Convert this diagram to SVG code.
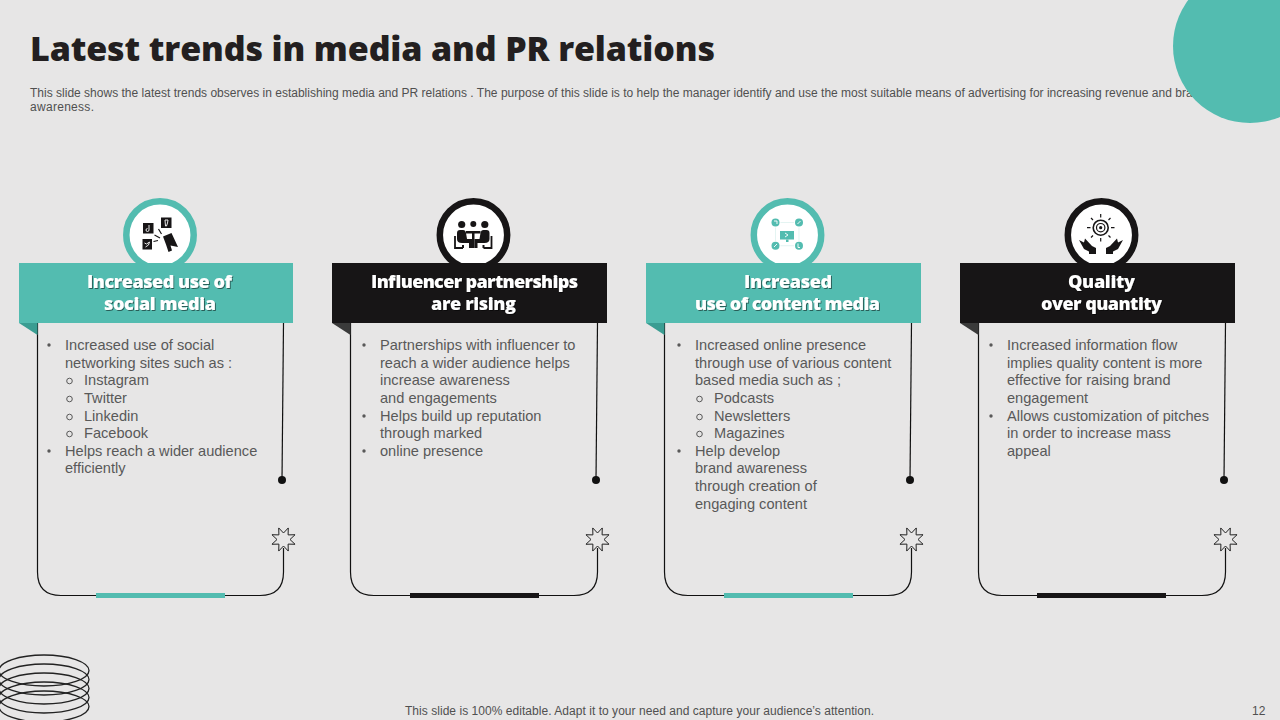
<svg xmlns="http://www.w3.org/2000/svg" width="1280" height="720" viewBox="0 0 1280 720">
<defs>
<style>
.b{font-family:"Liberation Sans",Arial,sans-serif;font-size:14.6px;fill:#595959}
.d{font-family:"Liberation Sans",Arial,sans-serif;font-size:12px;fill:#505050}
.f{font-family:"Liberation Sans",Arial,sans-serif;font-size:12px;fill:#505050}
.t{font-family:"Open Sans",Lato,sans-serif;font-weight:800;font-size:34px;fill:#231f20}
.h{font-family:"Open Sans",Lato,sans-serif;font-weight:800;font-size:18px;fill:#fff;text-anchor:middle;filter:url(#sh)}
.line{fill:none;stroke:#111;stroke-width:1.2}
.ring{fill:#fff;stroke-width:6.500}
.tl{fill:#53bcb0}.bk{fill:#171516}
.star{fill:none;stroke:#222;stroke-width:1}
.coil{fill:none;stroke:#222;stroke-width:1.3}
.wm{fill:none;stroke:#fff;stroke-width:0.9}
</style>
<filter id="sh" x="-10%" y="-20%" width="120%" height="150%"><feDropShadow dx="1" dy="1" stdDeviation="0.6" flood-color="#000" flood-opacity="0.5"/></filter>
<path id="burst" d="M6.500 0 11.550 4.780 4.600 4.600 4.780 11.550 0 6.500-4.780 11.550-4.600 4.600-11.550 4.780-6.500 0-11.550-4.780-4.600-4.600-4.780-11.550 0-6.500 4.780-11.550 4.600-4.600 11.550-4.780Z"/>
<g id="person"><circle cx="461.700" cy="224.500" r="3.600"/><path d="M457 233q0-3 3-3h3q2.500 0 3 3l1 6h5v9h-3v-5h-7q-5 0-5-4Z"/><path d="M455 236v12h8" fill="none" stroke="#171516" stroke-width="1.800"/><path d="M463 245v3" fill="none" stroke="#171516" stroke-width="2"/></g>
</defs>
<rect width="1280" height="720" fill="#e7e6e6"/>
<text class="t" x="30" y="61" textLength="685">Latest trends in media and PR relations</text>
<text class="d" x="30" y="97" textLength="1176">This slide shows the latest trends observes in establishing media and PR relations . The purpose of this slide is to help the manager identify and use the most suitable means of advertising for increasing revenue and brand</text>
<text class="d" x="30" y="111" textLength="64">awareness.</text>
<circle class="tl" cx="1250" cy="46" r="77"/>

<g id="coil">
<ellipse class="coil" cx="44" cy="670.500" rx="45" ry="15.500"/>
<ellipse class="coil" cx="44" cy="679.500" rx="45" ry="15.500"/>
<ellipse class="coil" cx="44" cy="688.500" rx="45" ry="15.500"/>
<ellipse class="coil" cx="44" cy="697.500" rx="45" ry="15.500"/>
<ellipse class="coil" cx="44" cy="706.500" rx="45" ry="15.500"/>
</g>

<g id="card-1">
<path class="line" d="M37.500 323V572Q37.500 595.500 61 595.500H260Q283.500 595.500 283.500 572V548"/>
<path class="line" d="M283.500 323 282 480"/><circle cx="282" cy="480" r="4" fill="#111"/>
<use href="#burst" class="star" x="283.500" y="539.500"/>
<rect class="tl" x="96" y="593" width="129" height="5"/>
<path d="M19 323H37.500V335Z" fill="#3a9d92"/>
<rect class="tl" x="19" y="263" width="274" height="60"/>
<circle class="ring" cx="160" cy="235" r="33.700" stroke="#53bcb0"/>
<rect class="tl" x="19" y="263" width="274" height="8"/>
<g id="icon-1" fill="#171516">
<rect x="143" y="223" width="10.500" height="10.500"/><rect x="161" y="217.500" width="10.500" height="10.500"/><rect x="142.500" y="239" width="9.500" height="10.500"/>
<path class="wm" d="M149 225v5a1.500 1.500 0 1 1-1.500-1.500M165 220h3l-.5 3 -1 3h-1ZM144.500 243l2 1 3-2-1 3-3 2"/>
<path d="M163 236.500 171.500 233 178 247 170.500 245.500 172 250.500 168.500 252 166 244.500Z"/>
<path d="M154.500 235 160 238M158.500 229 161.500 234M153.500 241.500 158 240.500" stroke="#171516" fill="none" stroke-width="1.200"/>
</g>
<text class="h" x="159.500" y="288" textLength="145">Increased use of</text><text class="h" x="160" y="310" textLength="112">social media</text>
<g class="b"><circle cx="49" cy="345" r="1.700" fill="#595959"/><circle cx="49" cy="451" r="1.700" fill="#595959"/>
<text x="65" y="350">Increased use of social</text><text x="65" y="368">networking sites such as :</text>
<text x="65" y="456">Helps reach a wider audience</text><text x="65" y="473">efficiently</text>
<g fill="none" stroke="#595959"><circle cx="69.500" cy="381" r="2.800"/><circle cx="69.500" cy="399" r="2.800"/><circle cx="69.500" cy="417" r="2.800"/><circle cx="69.500" cy="434" r="2.800"/></g>
<text x="84" y="385">Instagram</text><text x="84" y="403">Twitter</text><text x="84" y="421">Linkedin</text><text x="84" y="438">Facebook</text></g>
</g>

<g id="card-2">
<path class="line" d="M350.500 323V572Q350.500 595.500 374 595.500H574Q597.500 595.500 597.500 572V548"/>
<path class="line" d="M597.500 323 596 480"/><circle cx="596" cy="480" r="4" fill="#111"/>
<use href="#burst" class="star" x="597.500" y="539.500"/>
<rect class="bk" x="410" y="593" width="129" height="5"/>
<path d="M332 323H350.500V335Z" fill="#3a3a3a"/>
<rect class="bk" x="332" y="263" width="275" height="60"/>
<circle class="ring" cx="473.500" cy="235" r="33.700" stroke="#171516"/>
<rect class="bk" x="332" y="263" width="275" height="8"/>
<g id="icon-2" fill="#171516">
<use href="#person"/><use href="#person" transform="matrix(-1 0 0 1 946.500 0)"/>
<circle cx="473.300" cy="224" r="3"/>
<rect x="466" y="231" width="14.500" height="2.500"/><rect x="472" y="233" width="2.500" height="15"/>
</g>
<text class="h" x="474.500" y="288" textLength="207">Influencer partnerships</text><text class="h" x="473.500" y="310" textLength="85">are rising</text>
<g class="b"><circle cx="364" cy="345" r="1.700" fill="#595959"/><circle cx="364" cy="416" r="1.700" fill="#595959"/><circle cx="364" cy="451" r="1.700" fill="#595959"/>
<text x="380" y="350">Partnerships with influencer to</text><text x="380" y="368">reach a wider audience helps</text><text x="380" y="385">increase awareness</text><text x="380" y="403">and engagements</text><text x="380" y="421">Helps build up reputation</text><text x="380" y="438">through marked</text><text x="380" y="456">online presence</text></g>
</g>

<g id="card-3">
<path class="line" d="M664.500 323V572Q664.500 595.500 688 595.500H888Q911.500 595.500 911.500 572V548"/>
<path class="line" d="M911.500 323 910 480"/><circle cx="910" cy="480" r="4" fill="#111"/>
<use href="#burst" class="star" x="911.500" y="539.500"/>
<rect class="tl" x="724" y="593" width="129" height="5"/>
<path d="M646 323H664.500V335Z" fill="#3a9d92"/>
<rect class="tl" x="646" y="263" width="275" height="60"/>
<circle class="ring" cx="787.500" cy="235" r="33.700" stroke="#53bcb0"/>
<rect class="tl" x="646" y="263" width="275" height="8"/>
<g id="icon-3" fill="#53bcb0">
<rect x="780" y="231" width="14" height="8.500"/><rect x="786" y="239.500" width="2.500" height="2.500"/>
<circle cx="775.500" cy="222.500" r="4"/><circle cx="799" cy="222.500" r="4"/><circle cx="775.500" cy="245.700" r="4"/><circle cx="799" cy="245.700" r="4"/>
<path class="wm" d="M785 233l3 2-3 2M774 221h3v3M797.500 224l3-3M774 247l3-3M798 243.500v4h2"/>
<path d="M780.500 222.500H794M780.500 245.700H794M775.500 227.500V241M799 227.500V241" stroke="#d8efec" stroke-width="0.700" fill="none"/>
</g>
<text class="h" x="788" y="288" textLength="88">Increased</text><text class="h" x="787.500" y="310" textLength="185">use of content media</text>
<g class="b"><circle cx="679" cy="345" r="1.700" fill="#595959"/><circle cx="679" cy="451" r="1.700" fill="#595959"/>
<text x="695" y="350">Increased online presence</text><text x="695" y="368">through use of various content</text><text x="695" y="385">based media such as ;</text>
<g fill="none" stroke="#595959"><circle cx="699.500" cy="399" r="2.800"/><circle cx="699.500" cy="417" r="2.800"/><circle cx="699.500" cy="434" r="2.800"/></g>
<text x="714" y="403">Podcasts</text><text x="714" y="421">Newsletters</text><text x="714" y="438">Magazines</text>
<text x="695" y="456">Help develop</text><text x="695" y="473">brand awareness</text><text x="695" y="491">through creation of</text><text x="695" y="509">engaging content</text></g>
</g>

<g id="card-4">
<path class="line" d="M978.500 323V572Q978.500 595.500 1002 595.500H1202Q1225.500 595.500 1225.500 572V548"/>
<path class="line" d="M1225.500 323 1224 480"/><circle cx="1224" cy="480" r="4" fill="#111"/>
<use href="#burst" class="star" x="1225.500" y="539.500"/>
<rect class="bk" x="1037" y="593" width="129" height="5"/>
<path d="M960 323H978.500V335Z" fill="#3a3a3a"/>
<rect class="bk" x="960" y="263" width="275" height="60"/>
<circle class="ring" cx="1101.500" cy="235" r="33.700" stroke="#171516"/>
<rect class="bk" x="960" y="263" width="275" height="8"/>
<g id="icon-4" fill="#171516">
<circle cx="1100.700" cy="227.700" r="7.500" fill="none" stroke="#171516" stroke-width="1.600"/><circle cx="1100.700" cy="227.700" r="4.200" fill="none" stroke="#171516" stroke-width="1.200"/><circle cx="1100.700" cy="227.700" r="1.600"/>
<path d="M1100.700 214V217.500M1100.700 238V241.500M1087 227.700H1090.500M1111 227.700H1114.500M1091 218 1093 220M1110.500 218 1108.500 220M1091 237.500 1093 235.500M1110.500 237.500 1108.500 235.500" stroke="#171516" fill="none" stroke-width="1.200"/>
<path d="M1079 240 1084 242.500 1085 238.500 1092 246 1096 248V254H1089V251.500L1084 249ZM1123 240 1118 242.500 1117 238.500 1110 246 1106 248V254H1113V251.500L1118 249Z"/>
</g>
<text class="h" x="1101.500" y="288" textLength="67">Quality</text><text class="h" x="1101.500" y="310" textLength="121">over quantity</text>
<g class="b"><circle cx="991" cy="345" r="1.700" fill="#595959"/><circle cx="991" cy="416" r="1.700" fill="#595959"/>
<text x="1007" y="350">Increased information flow</text><text x="1007" y="368">implies quality content is more</text><text x="1007" y="385">effective for raising brand</text><text x="1007" y="403">engagement</text><text x="1007" y="421">Allows customization of pitches</text><text x="1007" y="438">in order to increase mass</text><text x="1007" y="456">appeal</text></g>
</g>

<text class="f" x="405" y="715" textLength="469">This slide is 100% editable. Adapt it to your need and capture your audience’s attention.</text>
<text class="f" x="1252" y="715">12</text>
</svg>
